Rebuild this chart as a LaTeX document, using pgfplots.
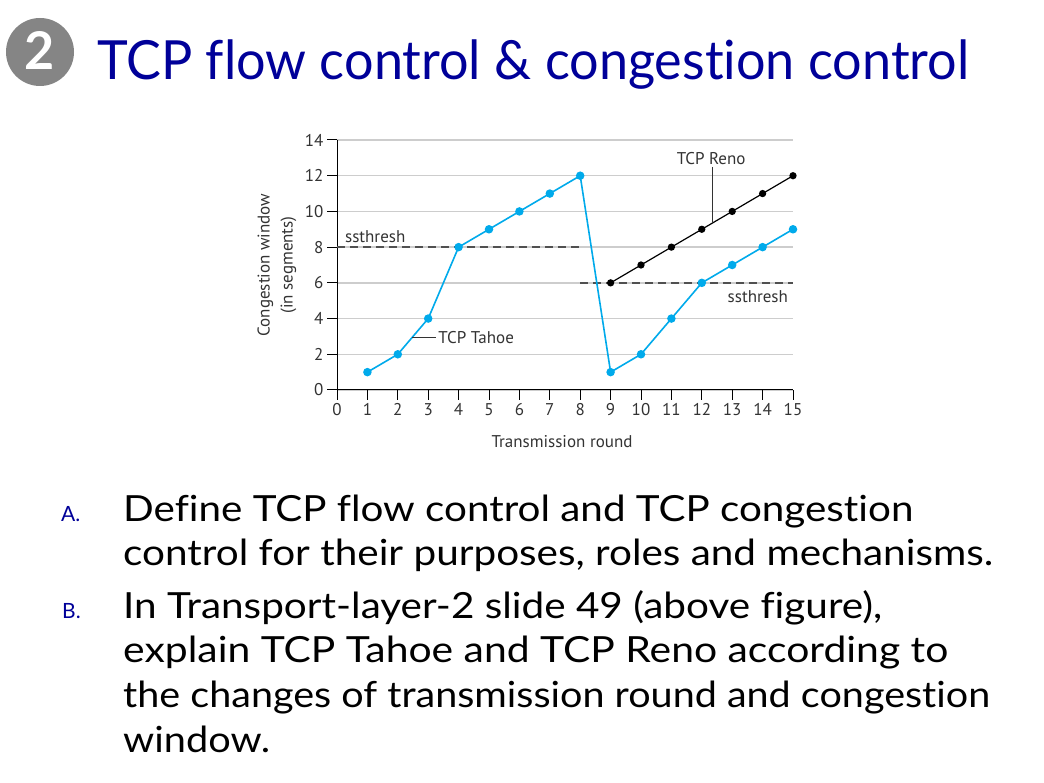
\documentclass[border=0pt]{standalone}
\usepackage{pgfplots}
\pgfplotsset{compat=1.18}
\usepackage{fontspec}
\setmainfont{Lato}[Ligatures=NoCommon]
\newfontfamily\chartfont{PT Sans}
\definecolor{tcpcyan}{RGB}{0,170,235}
\definecolor{slideblue}{RGB}{0,0,153}
\definecolor{badgegray}{RGB}{133,133,133}
\definecolor{gridgray}{RGB}{205,205,205}
\definecolor{dashgray}{RGB}{80,80,80}
\newcommand{\cf}{\chartfont\fontsize{17}{20}\selectfont}
\newcommand{\bodyf}{\fontsize{36}{42}\selectfont}

\begin{document}
\begin{tikzpicture}
\path[use as bounding box, fill=white] (0,0) rectangle (1044pt,782pt);

% badge and title
\fill[badgegray] (40pt,730pt) circle (34pt);
\node[text=white, font=\fontsize{52}{52}\selectfont\bfseries] at (40pt,731pt) {2};
\node[anchor=base west, inner sep=0, text=slideblue, font=\fontsize{54}{60}\selectfont]
  at (97pt,702.7pt) {\resizebox{872pt}{\height}{TCP flow control \& congestion control}};

% chart
\begin{axis}[at={(337pt,392pt)}, anchor=south west, scale only axis,
  width=456pt, height=250pt,
  xmin=0, xmax=15, ymin=0, ymax=14,
  xtick={0,...,15}, ytick={0,2,...,14},
  axis x line*=bottom, axis y line*=left,
  axis line style={black, line width=1pt, -},
  tick align=outside, major tick length=10pt,
  tick style={black, line width=1pt},
  ymajorgrids, grid style={gridgray, line width=1.4pt},
  ticklabel style={font=\cf, text=black!80},
  /pgf/number format/assume math mode=true,
  clip=false]
\addplot[dashgray, line width=1.4pt, dash pattern=on 8pt off 5pt] coordinates {(0,8) (8,8)};
\addplot[dashgray, line width=1.4pt, dash pattern=on 8pt off 5pt] coordinates {(8,6) (15,6)};
\addplot[tcpcyan, line width=1.6pt, mark=*, mark size=3.4pt,
  mark options={fill=tcpcyan, draw=tcpcyan}] coordinates {
  (1,1) (2,2) (3,4) (4,8) (5,9) (6,10) (7,11) (8,12)
  (9,1) (10,2) (11,4) (12,6) (13,7) (14,8) (15,9)};
\addplot[black, line width=1.2pt, mark=*, mark size=3pt,
  mark options={fill=black}] coordinates {
  (9,6) (10,7) (11,8) (12,9) (13,10) (14,11) (15,12)};

\draw[black!80, line width=0.8pt] (axis cs:2.47,2.92) -- (axis cs:3.27,2.92);
\node[anchor=base west, inner sep=0, font=\cf, text=black!80] at (axis cs:3.33,2.58) {TCP Tahoe};
\node[anchor=base west, inner sep=0, font=\cf, text=black!80] at (axis cs:0.26,8.25) {ssthresh};
\node[anchor=base east, inner sep=0, font=\cf, text=black!80] at (axis cs:14.84,4.89) {ssthresh};
\node[anchor=base west, inner sep=0, font=\cf, text=black!80] at (axis cs:11.17,12.65) {TCP Reno};
\draw[black!80, line width=0.8pt] (axis cs:12.36,12.5) -- (axis cs:12.36,9.4);
\end{axis}

\node[rotate=90, align=center, font=\chartfont\fontsize{17}{23}\selectfont, text=black!80]
  at (277pt,517pt) {Congestion window\\(in segments)};
\node[font=\cf, text=black!80] at (562pt,340pt) {Transmission round};

% question text
\node[anchor=base west, inner sep=0, text=slideblue, font=\fontsize{21}{24}\selectfont] at (61pt,260pt) {A.};
\node[anchor=base west, inner sep=0, font=\bodyf] at (123pt,260pt)
  {\resizebox{790pt}{\height}{Define TCP flow control and TCP congestion}};
\node[anchor=base west, inner sep=0, font=\bodyf] at (123pt,216pt)
  {\resizebox{870pt}{\height}{control for their purposes, roles and mechanisms.}};
\node[anchor=base west, inner sep=0, text=slideblue, font=\fontsize{21}{24}\selectfont] at (62pt,163pt) {B.};
\node[anchor=base west, inner sep=0, font=\bodyf] at (123pt,163pt)
  {\resizebox{759pt}{\height}{In Transport-layer-2 slide 49 (above figure),}};
\node[anchor=base west, inner sep=0, font=\bodyf] at (123pt,119pt)
  {\resizebox{825pt}{\height}{explain TCP Tahoe and TCP Reno according to}};
\node[anchor=base west, inner sep=0, font=\bodyf] at (123pt,75pt)
  {\resizebox{867pt}{\height}{the changes of transmission round and congestion}};
\node[anchor=base west, inner sep=0, font=\bodyf] at (123pt,30pt)
  {\resizebox{147pt}{\height}{window.}};
\end{tikzpicture}
\end{document}
